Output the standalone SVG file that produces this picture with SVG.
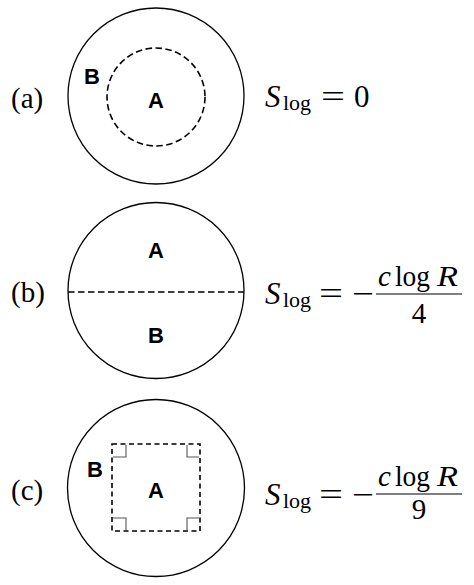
<svg xmlns="http://www.w3.org/2000/svg" width="474" height="585" viewBox="0 0 474 585">
<style>
.outer{fill:none;stroke:#000;stroke-width:1.3}
.dash{fill:none;stroke:#000;stroke-width:1.6;stroke-dasharray:6.5,3.5}
.dsq{fill:none;stroke:#000;stroke-width:1.6;stroke-dasharray:5,3.5}
.mark{fill:none;stroke:#555;stroke-width:1.1}
.lab{font-family:"Liberation Sans",Arial,sans-serif;font-weight:bold;font-size:22px;fill:#000}
.tag{font-family:"Liberation Serif","Times New Roman",serif;font-size:29px;fill:#000}
.big{font-family:"Liberation Serif","Times New Roman",serif;font-size:31px;fill:#000}
.bigi{font-family:"Liberation Serif","Times New Roman",serif;font-style:italic;font-size:31px;fill:#000}
.m{font-family:"Liberation Serif","Times New Roman",serif;font-size:29px;fill:#000}
.mi{font-family:"Liberation Serif","Times New Roman",serif;font-style:italic;font-size:29px;fill:#000}
.sub{font-family:"Liberation Serif","Times New Roman",serif;font-size:22px;fill:#000}
.bar{stroke:#000;stroke-width:1.2}
</style>
<g id="panel-a">
<circle class="outer" cx="156" cy="96" r="88"/>
<circle class="dash" cx="156" cy="97" r="49"/>
<text class="lab" x="84" y="84">B</text>
<text class="lab" x="156" y="108" text-anchor="middle">A</text>
<text class="tag" x="11" y="108">(a)</text>
<text class="bigi" x="265" y="107">S</text>
<text class="sub" x="283" y="110">log</text>
<text class="big" x="321" y="107" textLength="24" lengthAdjust="spacingAndGlyphs">=</text>
<text class="big" x="354" y="107">0</text>
</g>
<g id="panel-b">
<circle class="outer" cx="156" cy="290.5" r="88"/>
<text class="lab" x="156" y="258" text-anchor="middle">A</text>
<text class="lab" x="156" y="343" text-anchor="middle">B</text>
<text class="tag" x="11" y="302">(b)</text>
<text class="bigi" x="265" y="304">S</text>
<text class="sub" x="283" y="307">log</text>
<text class="big" x="319" y="304" textLength="24" lengthAdjust="spacingAndGlyphs">=</text>
<text class="big" x="352" y="304" textLength="22" lengthAdjust="spacingAndGlyphs">−</text>
<text class="mi" x="378" y="286">c</text>
<text class="m" x="395" y="286" textLength="35" lengthAdjust="spacingAndGlyphs">log</text>
<text class="mi" x="437" y="286" textLength="21" lengthAdjust="spacingAndGlyphs">R</text>
<line class="bar" x1="376" y1="294" x2="462" y2="294"/>
<text class="m" x="419" y="323" text-anchor="middle">4</text>
</g>
<g id="panel-c">
<circle class="outer" cx="156" cy="488" r="88.5"/>
<text class="lab" x="87" y="477">B</text>
<text class="lab" x="156" y="498" text-anchor="middle">A</text>
<text class="tag" x="11" y="500">(c)</text>
<text class="bigi" x="265" y="505">S</text>
<text class="sub" x="283" y="508">log</text>
<text class="big" x="319" y="505" textLength="24" lengthAdjust="spacingAndGlyphs">=</text>
<text class="big" x="352" y="505" textLength="22" lengthAdjust="spacingAndGlyphs">−</text>
<text class="mi" x="378" y="486">c</text>
<text class="m" x="395" y="486" textLength="35" lengthAdjust="spacingAndGlyphs">log</text>
<text class="mi" x="437" y="486" textLength="21" lengthAdjust="spacingAndGlyphs">R</text>
<line class="bar" x1="376" y1="494" x2="462" y2="494"/>
<text class="m" x="419" y="519" text-anchor="middle">9</text>
</g>
<g id="connectors">
<line class="dash" x1="68" y1="292" x2="244" y2="292"/>
<rect class="dsq" x="112" y="444" width="88" height="87"/>
<path class="mark" d="M113 457H126V445M199 457H187V445M113 518H126V530M199 518H187V530"/>
</g>
</svg>
